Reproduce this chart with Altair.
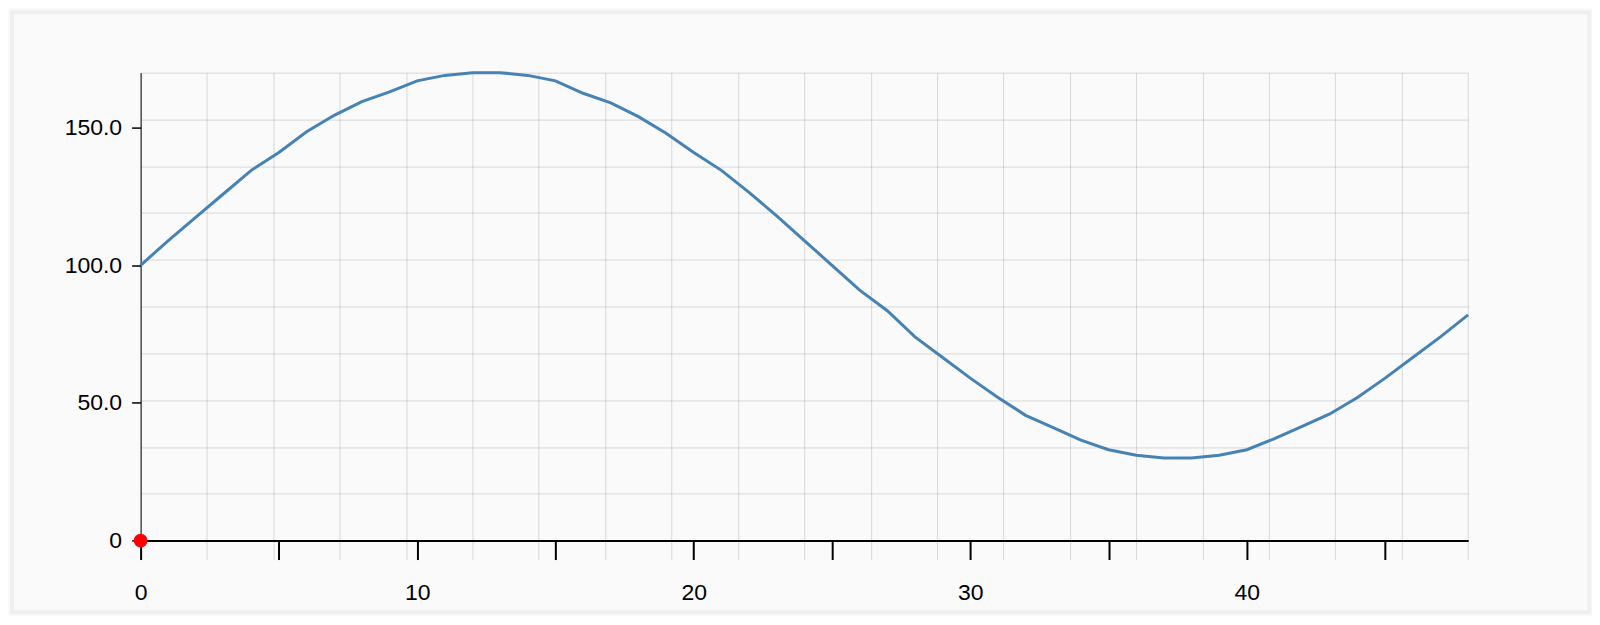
import altair as alt
import pandas as pd

# ---- data ----
x_values = list(range(49))
y_values = [100, 109, 117.5, 126, 134.5, 141, 148.5, 154.5, 159.5, 163, 167,
            169, 170, 170, 169, 167, 162.5, 159, 154, 148, 141, 134.5, 126.5,
            118, 109, 100, 91, 83.5, 74, 66.5, 59, 52, 45.5, 41, 36.5, 33, 31,
            30, 30, 31, 33, 37, 41.5, 46, 52, 59, 66.5, 74, 82]
marker_x = [0]
marker_y = [0]

x_major_ticks = [0, 5, 10, 15, 20, 25, 30, 35, 40, 45]
x_grid_values = [0, 2.4, 4.8, 7.2, 9.6, 12, 14.4, 16.8, 19.2, 21.6, 24, 26.4,
                 28.8, 31.2, 33.6, 36, 38.4, 40.8, 43.2, 45.6, 48]
y_major_ticks = [0, 50, 100, 150]
y_grid_values = [0, 17, 34, 51, 68, 85, 102, 119, 136, 153, 170]
x_domain = [0, 48]
y_domain = [0, 170]

W = 1328.3
H = 468.2
FONT = "Liberation Sans"

line_df = pd.DataFrame({"x": x_values, "y": y_values})
dot_df = pd.DataFrame({"x": marker_x, "y": marker_y})
frame_df = pd.DataFrame({"a": [0]})

xs = alt.Scale(domain=x_domain, nice=False, zero=False)
ys = alt.Scale(domain=y_domain, nice=False, zero=False)

grid_x_axis = alt.Axis(values=x_grid_values, orient="bottom", grid=True,
                       gridColor="#000000", gridOpacity=0.14, gridWidth=1,
                       ticks=True, tickColor="#000000", tickOpacity=0.14,
                       tickSize=19, tickWidth=1, labels=False, domain=False,
                       title="")
grid_y_axis = alt.Axis(values=y_grid_values, orient="left", grid=True,
                       gridColor="#000000", gridOpacity=0.14, gridWidth=1,
                       ticks=False, labels=False, domain=False, title="")

main_x_axis = alt.Axis(values=x_major_ticks, orient="bottom", grid=False,
                       ticks=True, tickColor="#000000", tickSize=19, tickWidth=2,
                       domain=True, domainColor="#000000", domainWidth=2,
                       labelExpr="datum.value % 10 == 0 ? datum.label : ''",
                       labelFont=FONT, labelFontSize=23, labelColor="#000000",
                       labelBaseline="alphabetic", labelPadding=40,
                       labelFlush=False, labelOverlap=False, title="")
main_y_axis = alt.Axis(values=y_major_ticks, orient="left", grid=False,
                       ticks=True, tickColor="#000000", tickSize=9, tickWidth=1.5,
                       domain=True, domainColor="#000000", domainWidth=1,
                       format=".1f",
                       labelExpr="datum.value == 0 ? '0' : datum.label",
                       labelFont=FONT, labelFontSize=23, labelColor="#000000",
                       labelPadding=10, labelFlush=False, labelOverlap=False,
                       title="")

line = alt.Chart(line_df).mark_line(color="#4682b4", strokeWidth=3).encode(
    x=alt.X("x:Q", scale=xs, axis=grid_x_axis),
    y=alt.Y("y:Q", scale=ys, axis=grid_y_axis),
)

dot = alt.Chart(dot_df).mark_point(filled=True, color="#ff0000", size=190,
                                   opacity=1).encode(
    x=alt.X("x:Q", scale=xs, axis=main_x_axis),
    y=alt.Y("y:Q", scale=ys, axis=main_y_axis),
)

frame = alt.Chart(frame_df).mark_rect(filled=False, stroke="#efefef",
                                      strokeWidth=4).encode(
    x=alt.value(-128.7), x2=alt.value(1449.6),
    y=alt.value(-60.5), y2=alt.value(540),
)

chart = alt.layer(frame, line, dot).resolve_axis(
    x="independent", y="independent"
).properties(
    width=W, height=H,
    background="#fafafa",
    autosize=alt.AutoSizeParams(type="none"),
    padding={"left": 132.7, "top": 64.5, "right": 124, "bottom": 75},
).configure_view(strokeWidth=0)

chart.save("out.html", embed_options={"renderer": "svg", "actions": False})
